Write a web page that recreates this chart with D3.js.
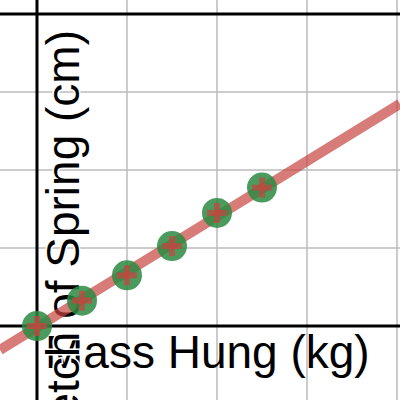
<!DOCTYPE html>
<html>
<head>
<script src="https://cdn.jsdelivr.net/npm/d3@7"></script>
<style>body{margin:0;background:#fff}</style>
</head>
<body>
<svg id="chart" width="400" height="400"></svg>
<script>
const width = 400, height = 400;

// measured points
const mass = [0, 0.1, 0.2, 0.3, 0.4, 0.5];
const stretch = [0, 0.65, 1.3, 2.05, 2.9, 3.55];
const gridX = [0.2, 0.4, 0.6, 0.8];
const gridY = [2, 4, 6];
const fitSlope = 7.1, fitIntercept = -0.03;

const svg = d3.select("#chart");

const x = d3.scaleLinear().domain([-0.0822, 0.8067]).range([0, width]);
const y = d3.scaleLinear().domain([-1.897, 8.36]).range([height, 0]);

// grid
svg.selectAll("line.gx").data(gridX).join("line")
  .attr("x1", d => x(d)).attr("x2", d => x(d))
  .attr("y1", 0).attr("y2", height)
  .attr("stroke", "#bbb").attr("stroke-width", 1.5);
svg.selectAll("line.gy").data(gridY).join("line")
  .attr("y1", d => y(d)).attr("y2", d => y(d))
  .attr("x1", 0).attr("x2", width)
  .attr("stroke", "#bbb").attr("stroke-width", 1.5);

// axes (and the dark top line)
svg.append("line").attr("x1", x(0)).attr("x2", x(0)).attr("y1", 0).attr("y2", height)
  .attr("stroke", "#000").attr("stroke-width", 3);
[0, 8].forEach(v => {
  svg.append("line").attr("x1", 0).attr("x2", width).attr("y1", y(v)).attr("y2", y(v))
    .attr("stroke", "#000").attr("stroke-width", 3);
});

// x label
svg.append("text").attr("x", 45).attr("y", 368)
  .style("font-family", "Liberation Sans, Arial").style("font-size", "46px")
  .text("Mass Hung (kg)");

// y label with white halo (runs off the bottom like the original)
svg.append("text")
  .attr("transform", "translate(79,30) rotate(-90)")
  .attr("text-anchor", "end")
  .style("font-family", "Liberation Sans, Arial").style("font-size", "46px")
  .attr("stroke", "#fff").attr("stroke-width", 3).attr("paint-order", "stroke")
  .text("Stretch of Spring (cm)");

// fit line
const xd = x.domain();
svg.append("line")
  .attr("x1", x(xd[0])).attr("y1", y(fitSlope * xd[0] + fitIntercept))
  .attr("x2", x(xd[1])).attr("y2", y(fitSlope * xd[1] + fitIntercept))
  .attr("stroke", "#c74440").attr("stroke-opacity", 0.7).attr("stroke-width", 10);

const pts = mass.map((m, i) => ({m: m, s: stretch[i]}));

svg.selectAll("circle.pt").data(pts).join("circle")
  .attr("cx", d => x(d.m)).attr("cy", d => y(d.s)).attr("r", 15)
  .attr("fill", "#2d8a42").attr("fill-opacity", 0.85);

// red plus markers
const plus = svg.selectAll("g.plus").data(pts).join("g")
  .attr("transform", d => "translate(" + x(d.m) + "," + y(d.s) + ")");
plus.append("line").attr("x1", -10).attr("x2", 10).attr("stroke", "#c74440")
  .attr("stroke-opacity", 0.7).attr("stroke-width", 6);
plus.append("line").attr("y1", -10).attr("y2", 10).attr("stroke", "#c74440")
  .attr("stroke-opacity", 0.7).attr("stroke-width", 6);
</script>
</body>
</html>
